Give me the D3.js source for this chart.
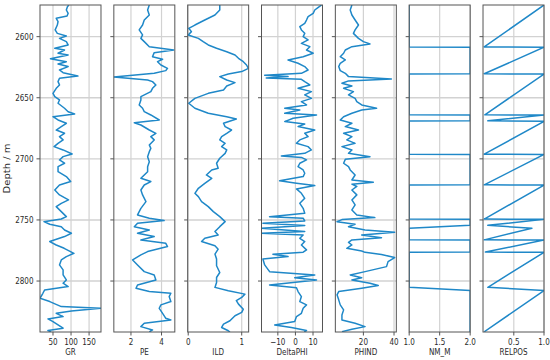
<!DOCTYPE html>
<html>
<head>
<meta charset="utf-8">
<script src="https://cdn.jsdelivr.net/npm/d3@7/dist/d3.min.js"></script>
<style>
  body { margin: 0; background: #fff; }
  text { font-family: "DejaVu Sans", sans-serif; fill: #2a2a2a; }
</style>
</head>
<body>
<svg width="550" height="360"></svg>
<script>
// depth axis
const depthExtent = [2574.1, 2841.7];
const depthTicks = [2600, 2650, 2700, 2750, 2800];

// logs: [depth, value]
const grLog = [
  [2574.1, 94], [2575.5, 90], [2578.2, 87], [2580.9, 92], [2583.1, 89], [2585, 59],
  [2587.7, 64], [2590.5, 62], [2594.5, 56], [2597.3, 62], [2599.5, 87], [2601.4, 68],
  [2604.1, 87], [2606.8, 92], [2609.5, 55], [2610.9, 82], [2613.6, 64], [2615, 92],
  [2618, 43], [2620.5, 87], [2622.4, 64], [2624.5, 92], [2627.3, 68], [2629.5, 78],
  [2632.2, 119], [2634.1, 68], [2636.8, 64], [2639.5, 68], [2642.3, 59], [2646.4, 50],
  [2649.1, 55], [2651.8, 68], [2654.5, 64], [2658.6, 82], [2661.4, 92], [2663.3, 110],
  [2665.5, 50], [2668.2, 64], [2670.9, 87], [2673.6, 73], [2676.4, 59], [2679.1, 82],
  [2681.8, 68], [2684.5, 78], [2687.3, 64], [2690, 53], [2692.7, 78], [2696, 103],
  [2698.2, 78], [2700.9, 68], [2703.6, 82], [2706.4, 64], [2710.5, 64], [2714.5, 87],
  [2718.6, 99], [2721.4, 68], [2725.5, 55], [2729.5, 68], [2733.6, 93], [2736.4, 73],
  [2739.1, 59], [2743.2, 73], [2747.3, 87], [2749.2, 73], [2751.4, 25], [2753.5, 41],
  [2755.5, 73], [2758.2, 82], [2760.9, 101], [2763.6, 82], [2767.7, 41], [2770.5, 59],
  [2773.2, 81], [2777.3, 108], [2780, 87], [2782.7, 73], [2786.8, 68], [2790.9, 78],
  [2795, 78], [2799.1, 87], [2801.8, 78], [2804.5, 92], [2807.3, 27], [2810, 22],
  [2814.1, 14], [2816.8, 41], [2820.9, 73], [2822.3, 182], [2824.5, 101], [2826.4, 59],
  [2829.1, 78], [2831, 36], [2833.2, 50], [2835.9, 64], [2838.6, 78], [2840.5, 36],
  [2841.7, 45]
];

const peLog = [
  [2574.1, 3.2], [2578.2, 3.09], [2582.3, 3.2], [2586.4, 2.87], [2590.5, 2.76], [2594.5, 2.54],
  [2598.6, 2.76], [2601.4, 2.65], [2604.1, 2.87], [2608.2, 3.2], [2610.9, 4.8], [2613.1, 3.52],
  [2616.4, 3.41], [2618.5, 4.07], [2620.5, 3.74], [2623.2, 3.96], [2625.9, 4.39], [2627.8, 4.28],
  [2630, 3.52], [2633, 0.88], [2635.5, 3.09], [2636.8, 3.41], [2639.5, 3.63], [2642.3, 3.41],
  [2645, 3.3], [2649.1, 2.65], [2651.8, 2.65], [2655.9, 2.54], [2658.6, 2.76], [2661.4, 2.87],
  [2664.1, 3.3], [2668.2, 3.85], [2670.4, 2.22], [2672.3, 2.65], [2676.4, 3.2], [2679.1, 3.63],
  [2681.8, 3.3], [2684.5, 3.52], [2688.6, 3.2], [2691.4, 3.3], [2694.1, 3.2], [2698.2, 3.09],
  [2702.3, 3.2], [2706.4, 3.09], [2710.5, 3.09], [2715.9, 2.65], [2718.6, 3.3], [2721.4, 2.87],
  [2725.5, 2.65], [2729.5, 2.76], [2735, 2.98], [2740.5, 2.65], [2745.9, 2.43], [2748.6, 3.2],
  [2750.5, 4.17], [2752.7, 2.43], [2755.5, 2.22], [2758.2, 3.2], [2760.9, 2.43], [2763.6, 3.52],
  [2766.4, 2.65], [2769.1, 4.28], [2771.8, 4.39], [2775.9, 3.09], [2778.6, 2.65], [2782.7, 2.11],
  [2786.8, 2.43], [2792.3, 2.87], [2795, 3.52], [2799.1, 3.63], [2803.2, 2.43], [2805.9, 2.33],
  [2808.6, 3.2], [2810, 4.61], [2812.7, 4.5], [2816.8, 4.61], [2819.5, 3.96], [2822.3, 3.85],
  [2826.4, 4.07], [2830.5, 4.28], [2831.8, 4.61], [2834.5, 2.87], [2837.3, 2.65], [2840, 3.41],
  [2841.7, 3.2]
];

const ildLog = [
  [2574.1, 0.59], [2578.2, 0.59], [2582.3, 0.5], [2586.4, 0.31], [2590.5, 0.125], [2593.2, 0.01],
  [2595.9, 0.06], [2598.6, 0.0], [2601.4, 0.19], [2604.1, 0.28], [2606.8, 0.375], [2609.5, 0.53],
  [2612.3, 0.72], [2615, 0.875], [2617.7, 0.94], [2620.5, 1.03], [2623.2, 1.09], [2625.9, 1.125],
  [2628.6, 1.0], [2630.5, 0.75], [2632.7, 0.59], [2635.5, 0.72], [2637.6, 0.875], [2640.4, 0.72],
  [2643.6, 0.66], [2646.4, 0.375], [2650.5, 0.125], [2654.5, 0.01], [2658.6, 0.125], [2662.7, 0.375],
  [2665.5, 0.72], [2667.4, 0.9], [2670.9, 0.66], [2673.6, 0.69], [2676.4, 0.81], [2679.1, 0.72],
  [2681.8, 0.625], [2684.5, 0.59], [2687.3, 0.69], [2690, 0.625], [2692.7, 0.72], [2695.5, 0.69],
  [2699.5, 0.59], [2703.6, 0.53], [2707.7, 0.56], [2709.1, 0.44], [2713.2, 0.34], [2715.9, 0.44],
  [2720, 0.31], [2724.1, 0.19], [2728.2, 0.125], [2730.9, 0.19], [2735, 0.25], [2739.1, 0.375],
  [2743.2, 0.47], [2747.3, 0.59], [2751.4, 0.69], [2755.5, 0.59], [2759.5, 0.5], [2762.3, 0.56],
  [2765, 0.31], [2767.7, 0.25], [2771.1, 0.5], [2773.9, 0.56], [2777.9, 0.5], [2782, 0.53],
  [2787.5, 0.53], [2793, 0.59], [2797.1, 0.53], [2801.2, 0.53], [2805.2, 0.5], [2808, 0.75],
  [2810.7, 1.06], [2813.4, 1.0], [2816.1, 0.9], [2818.9, 0.94], [2823, 1.03], [2825.7, 1.0],
  [2828.4, 0.875], [2832.5, 0.78], [2835.3, 0.66], [2838, 0.625], [2840.7, 0.75], [2841.7, 0.78]
];

const dphiLog = [
  [2574.1, 14.9], [2576, 13], [2578.2, 11], [2580.9, 10.1], [2583.6, 7.2], [2586.4, 6.3],
  [2589.1, 5.3], [2591.8, 2.5], [2594.5, 3.4], [2597.3, 5.3], [2600, 4.4], [2602.7, 7.2],
  [2605.5, 3.4], [2608.2, 8.2], [2610.9, 6.3], [2613.6, 10.1], [2616.4, 4.4], [2619.1, -4.2],
  [2621.8, 1.5], [2624.5, 5.3], [2627.3, 7.2], [2630, 3.4], [2631.6, -17.5], [2632.7, -4.2],
  [2633.8, -16.6], [2634.9, 3.4], [2636.8, 5.3], [2639.5, 8.2], [2642.3, 1.5], [2645, 9.1],
  [2647.7, 5.3], [2650.5, 9.1], [2653.2, 3.4], [2655.9, 6.3], [2658.6, -6.1], [2660, 2.5],
  [2662.7, -6.1], [2664.1, 12], [2666.8, -1.3], [2669.5, -6.1], [2671.5, 5.3], [2673.6, 1.5],
  [2676.4, 11], [2679.1, 5.3], [2681.8, 7.2], [2684.5, 2.5], [2687.3, 0.6], [2690, 7.2],
  [2692.7, 9.1], [2695.5, 5.3], [2697.7, -8], [2698.8, 3.4], [2700.9, 6.3], [2703.6, 2.5],
  [2706.4, 1.5], [2709.1, 4.4], [2711.8, 5.3], [2714.5, 4.4], [2718, -9], [2720, 0.6],
  [2721.9, 11], [2724.6, 0.6], [2728.2, 3.4], [2732.3, 5.3], [2736.4, 2.5], [2740.5, 4.4],
  [2744.5, 5.3], [2747.3, -14.7], [2748.6, 4.4], [2750.8, 5.3], [2752.7, -18.5], [2754.6, 5.3],
  [2756.8, -19.3], [2759.5, 5.3], [2760.9, -19.3], [2762.3, 4.4], [2765, 2.5], [2767.7, 5.3],
  [2770.5, 3.4], [2774.5, 6.3], [2776.4, 4.4], [2778, -12.8], [2780, -4.2], [2781.9, -18.5],
  [2786.8, -17.5], [2792.3, -14.7], [2795, 11], [2797.3, -0.4], [2799.1, 12], [2801.1, -1.3],
  [2803.2, -14.7], [2805.5, 0.6], [2808.6, 1.5], [2812.7, 3.4], [2816.8, 2.5], [2819.5, 6.3],
  [2822.3, 4.4], [2826.4, 3.4], [2829.1, 0.6], [2833.2, -0.4], [2835.9, -11.8], [2838.1, -2.3],
  [2840.5, 6.3], [2841.7, 5]
];

const phindLog = [
  [2574.1, 12.5], [2578.2, 11.4], [2582.3, 12.5], [2586.4, 14.6], [2590.5, 16.8], [2594.5, 14.6],
  [2597.3, 13.5], [2601.4, 16.8], [2604.1, 20], [2606, 24.3], [2608.2, 12.5], [2610.9, 8.2],
  [2613.6, 7.1], [2616.4, 4.9], [2619.1, 8.2], [2621.8, 4.9], [2624.5, 3.9], [2627.8, 4.9],
  [2630, 8.2], [2632.7, 10.3], [2634.6, 38.3], [2636.2, 10.3], [2638.2, 6], [2640.4, 12.5],
  [2642.3, 7.1], [2645, 13.5], [2647.7, 10.3], [2650.5, 14.6], [2653.2, 15.7], [2655.9, 18.9],
  [2658.6, 28.6], [2660, 18.9], [2662.7, 12.5], [2665.5, 7.1], [2668.2, 4.9], [2670.9, 12.5],
  [2673.6, 8.2], [2676.4, 16.8], [2679.1, 7.1], [2681.8, 12.5], [2684.5, 9.2], [2687.3, 14.6],
  [2690, 6], [2692.7, 12.5], [2695.5, 10.3], [2698.2, 24.3], [2700.4, 8.2], [2703.6, 7.1],
  [2706.4, 10.3], [2709.1, 11.4], [2713.2, 14.6], [2717.3, 12.5], [2719.1, 26.5], [2720.7, 12.5],
  [2722.6, 15.7], [2725.5, 12.5], [2729.5, 15.7], [2733.6, 12.5], [2737.7, 14.6], [2741.8, 12.5],
  [2745.9, 15.7], [2748.1, 27.5], [2749.7, 6], [2751.4, 2.8], [2753.5, 14.6], [2755.5, 10.3],
  [2758.2, 21.1], [2760.1, 40.4], [2762.3, 18.9], [2764.5, 31.8], [2766.4, 12.5], [2768.3, 10.3],
  [2770.5, 12.5], [2773.2, 9.2], [2775.4, 18.9], [2776.5, 21.1], [2778.2, 31.8], [2780.8, 40.4],
  [2784.1, 36.1], [2788.2, 35.1], [2792.3, 21.1], [2795, 11.4], [2797.3, 18.9], [2799.1, 12.5],
  [2801.8, 24.3], [2803.7, 29.7], [2805.9, 18.9], [2808.6, 3.9], [2811.3, 2.8], [2815.4, 3.9],
  [2819.5, 4.9], [2823.6, 7.1], [2827.7, 6], [2831.8, 6], [2834.5, 14.6], [2837.3, 21.1],
  [2839.5, 12.5], [2841.4, 6]
];

const nmLog = [
  [2574.1, 1], [2608.4, 1], [2608.6, 2], [2630.4, 2], [2630.6, 1], [2664.0, 1], [2664.2, 2],
  [2668.9, 2], [2669.1, 1], [2696.2, 1], [2696.4, 2], [2721.3, 2], [2721.5, 1], [2749.3, 1],
  [2749.5, 2], [2754.4, 2], [2756.8, 1], [2766.3, 1], [2766.5, 2], [2776.3, 2], [2776.5, 1],
  [2805.1, 1], [2807.8, 2], [2841.7, 2]
];

const relposLog = [
  [2574.1, 1.0], [2608.4, 0.01], [2608.6, 1.0], [2630.4, 0.01], [2630.6, 1.0], [2664.0, 0.02],
  [2664.2, 1.0], [2668.9, 0.07], [2669.3, 1.0], [2696.2, 0.01], [2696.4, 1.0], [2721.3, 0.01],
  [2721.5, 1.0], [2749.3, 0.01], [2749.5, 1.0], [2754.4, 0.07], [2756.8, 0.8], [2766.3, 0.01],
  [2766.5, 1.0], [2776.3, 0.03], [2776.5, 1.0], [2805.1, 0.07], [2807.8, 1.0], [2841.5, 0.01]
];

// track names, axis limits and tick values
const trackNames = ["GR", "PE", "ILD", "DeltaPHI", "PHIND", "NM_M", "RELPOS"];
const trackLogs = [grLog, peLog, ildLog, dphiLog, phindLog, nmLog, relposLog];
const trackLimits = [[14, 183], [0.88, 4.87], [-0.01, 1.13], [-19.3, 15.4], [1.7, 41.5], [1, 2], [-0.01, 1]];
const trackTicks = [[50, 100, 150], [2, 4], [0, 1], [-10, 0, 10], [20, 40], [1, 1.5, 2], [0.5, 1]];
const trackFormats = ["d", "d", "d", "d", "d", ".1f", ".1f"];

const svg = d3.select("svg");
const plotTop = 5, plotBottom = 332;
const lineColor = "#1f88c8";
const gridColor = "#d2d2d2";
const spineColor = "#555";
const fontSize = "9px";
const squeeze = 0.8; // labels in the picture are a little narrow

const xBand = d3.scaleBand().domain(trackNames).range([40, 544]).paddingInner(0.174);
const y = d3.scaleLinear().domain(depthExtent).range([plotTop, plotBottom]);

function label(sel, tx, ty, anchor) {
  return sel.append("text")
    .attr("transform", `translate(${tx},${ty}) scale(${squeeze},1)`)
    .attr("text-anchor", anchor)
    .style("font-size", fontSize);
}

trackNames.forEach((name, i) => {
  const x0 = xBand(name);
  const w = xBand.bandwidth();
  const x = d3.scaleLinear().domain(trackLimits[i]).range([0, w]);
  const g = svg.append("g").attr("transform", `translate(${x0},0)`);

  g.append("clipPath").attr("id", "clip" + i)
    .append("rect").attr("x", 0).attr("y", plotTop).attr("width", w).attr("height", plotBottom - plotTop);

  // grid
  g.selectAll(".hgrid").data(depthTicks).join("line")
    .attr("x1", 0).attr("x2", w)
    .attr("y1", (d) => y(d)).attr("y2", (d) => y(d))
    .style("stroke", gridColor).style("stroke-width", "1.4px");
  g.selectAll(".vgrid").data(trackTicks[i]).join("line")
    .attr("x1", (d) => x(d)).attr("x2", (d) => x(d))
    .attr("y1", plotTop).attr("y2", plotBottom)
    .style("stroke", gridColor).style("stroke-width", "1.2px");

  // curve
  const line = d3.line().x((d) => x(d[1])).y((d) => y(d[0]));
  g.append("path")
    .datum(trackLogs[i])
    .attr("clip-path", `url(#clip${i})`)
    .attr("d", line)
    .style("fill", "none")
    .style("stroke", lineColor)
    .style("stroke-width", "1.5px")
    .style("stroke-linejoin", "round");

  // frame
  g.append("rect")
    .attr("x", 0).attr("y", plotTop).attr("width", w).attr("height", plotBottom - plotTop)
    .style("fill", "none").style("stroke", spineColor).style("stroke-width", "1px");

  // x axis
  const fmt = d3.format(trackFormats[i]);
  const xt = g.selectAll(".xt").data(trackTicks[i]).join("g")
    .attr("transform", (d) => `translate(${x(d)},${plotBottom})`);
  xt.append("line").attr("y2", 3.5).style("stroke", spineColor);
  xt.each(function (d) {
    label(d3.select(this), 0, 12.5, "middle").text(fmt(d));
  });
  label(g, w / 2, 354.5, "middle").text(name);

  // depth ticks on every track, labels on the first only
  const yt = g.selectAll(".yt").data(depthTicks).join("g")
    .attr("transform", (d) => `translate(0,${y(d)})`);
  yt.append("line").attr("x2", -3.5).style("stroke", spineColor);
  if (i === 0) {
    yt.each(function (d) {
      label(d3.select(this), -6.5, 3.2, "end").text(d);
    });
  }
});

svg.append("text")
  .attr("transform", `translate(10,${(plotTop + plotBottom) / 2}) rotate(-90) scale(1,${squeeze})`)
  .attr("text-anchor", "middle")
  .style("font-size", "10px")
  .text("Depth / m");
</script>
</body>
</html>
